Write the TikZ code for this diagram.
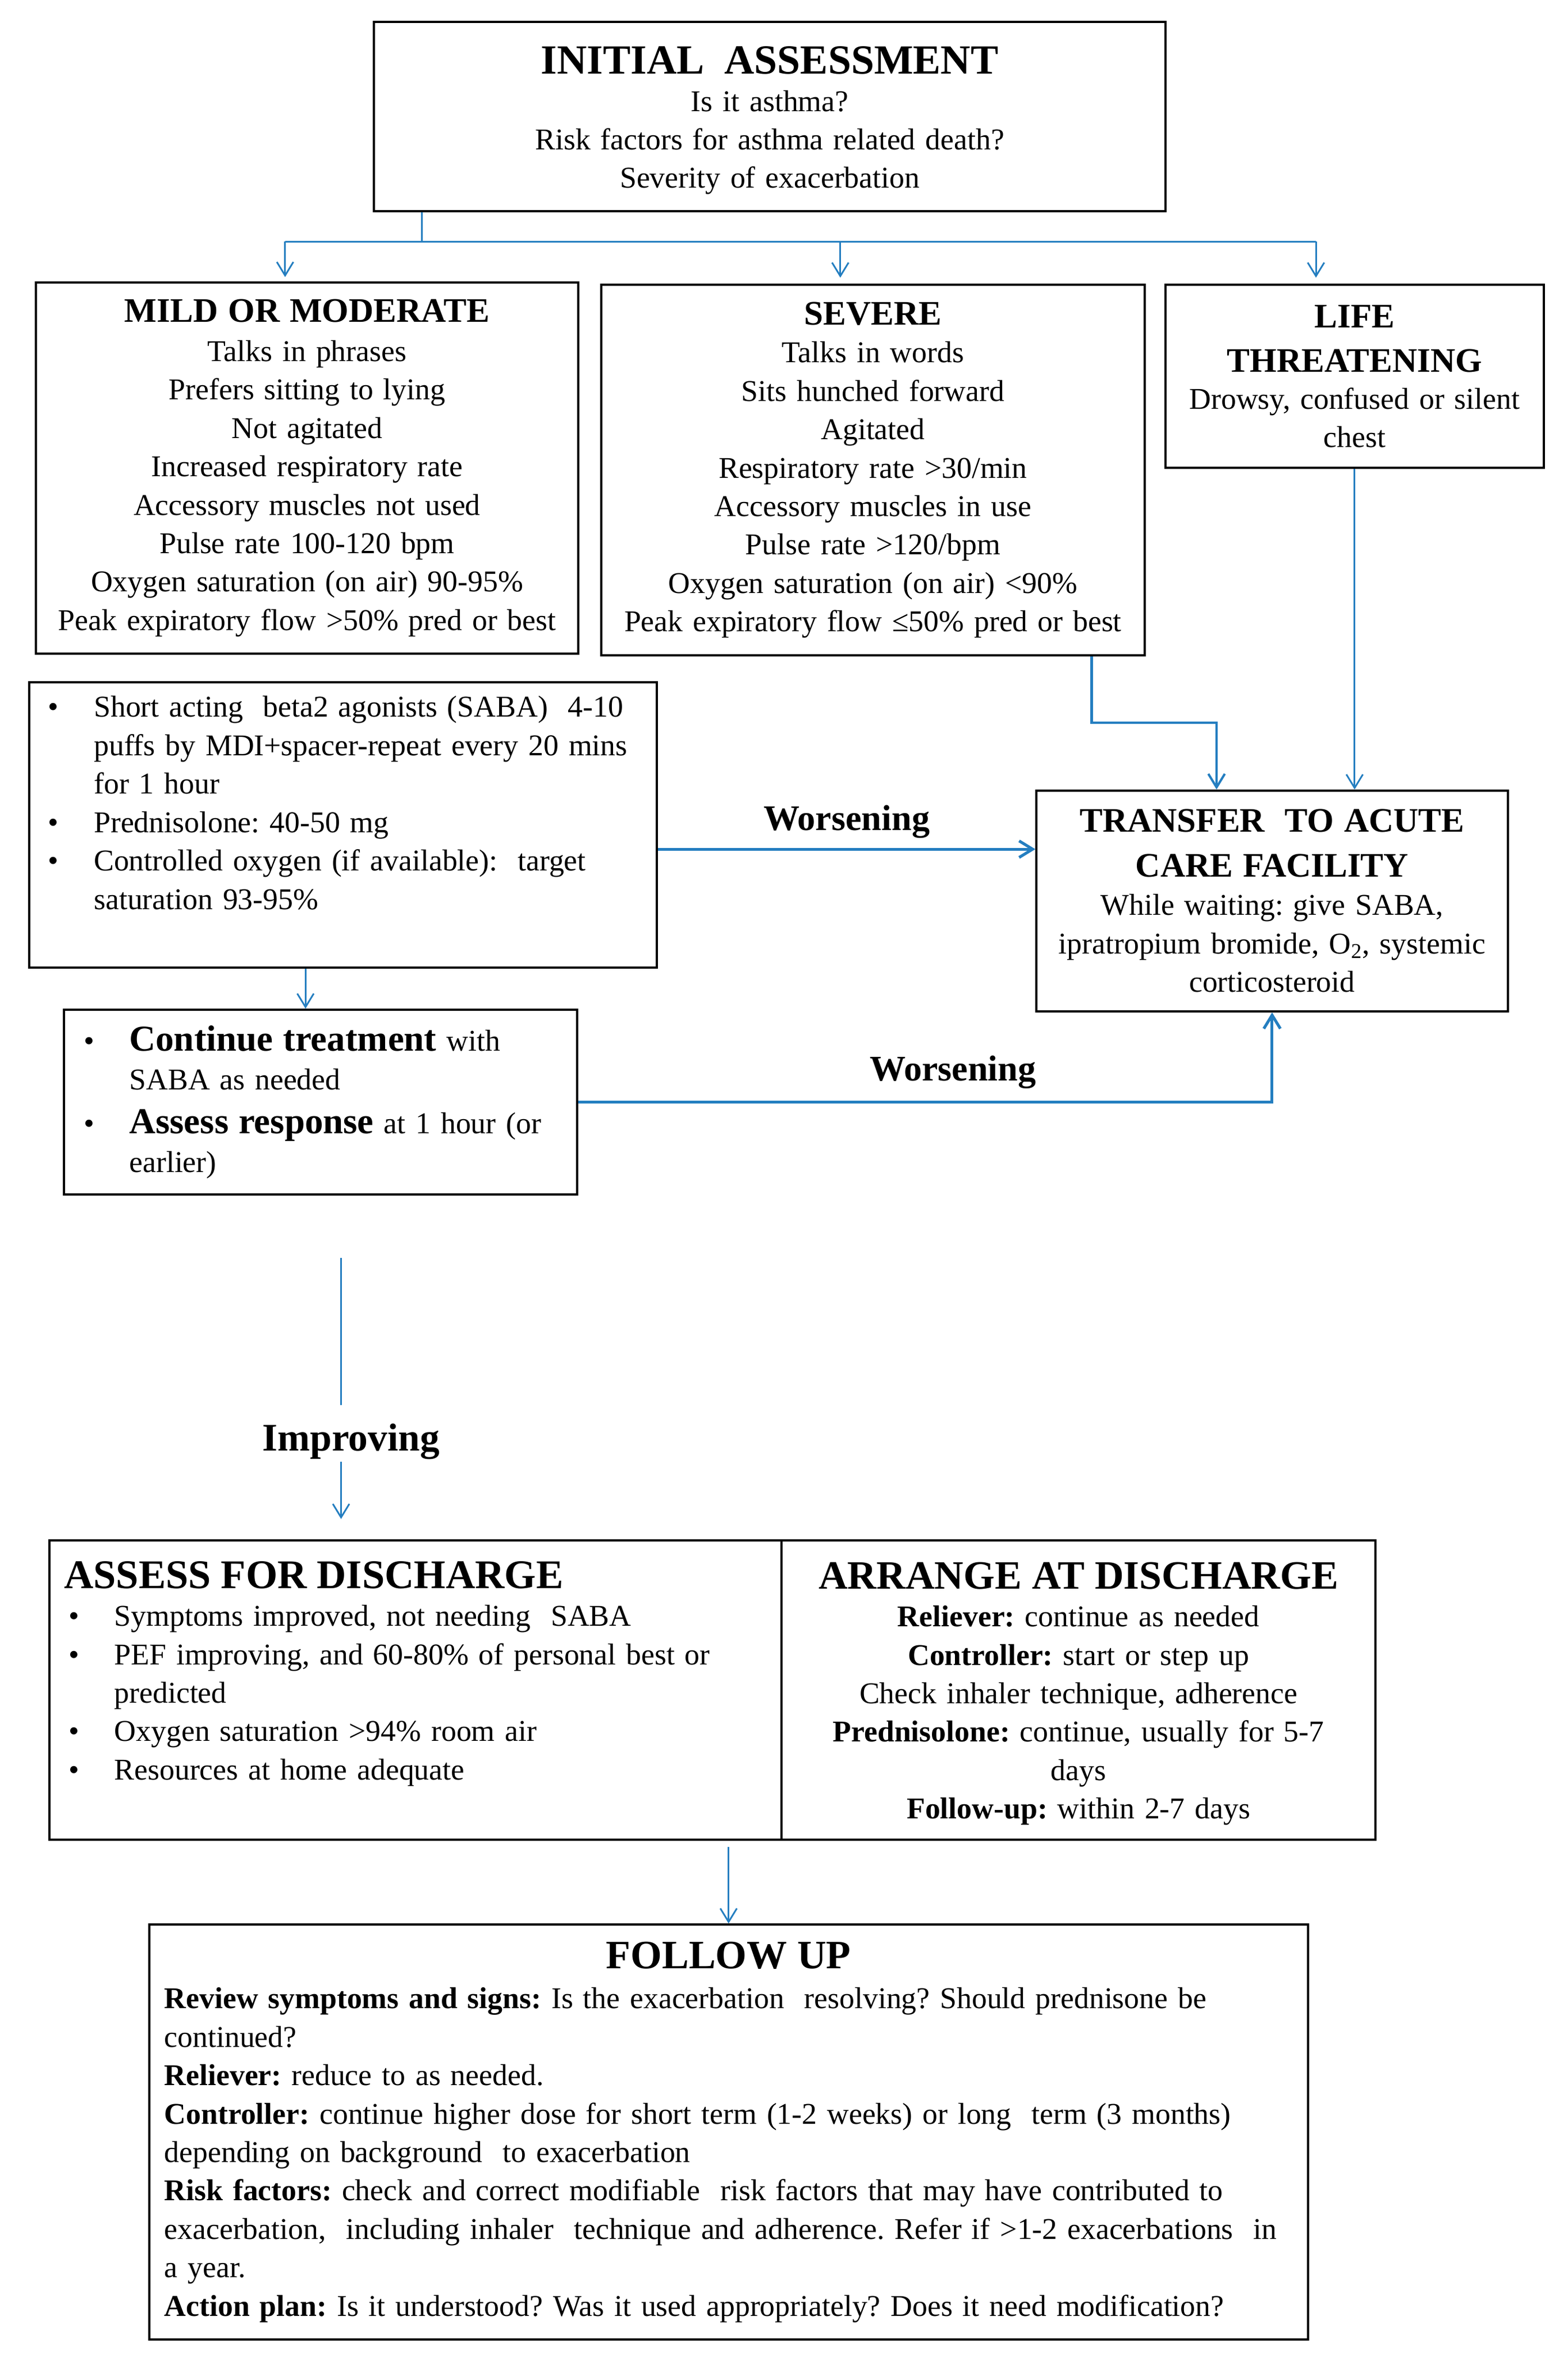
\documentclass[tikz,border=0pt]{standalone}
\usepackage{fontspec}
\setmainfont{Liberation Serif}
\usetikzlibrary{arrows.meta}
\definecolor{lineblue}{RGB}{36,126,192}
\frenchspacing

\newcommand{\bodysize}{\fontsize{20.1}{25.6}\selectfont}
\newcommand{\headsize}{\fontsize{22.9}{25.6}\selectfont\bfseries}
\newcommand{\bigsize}{\fontsize{27.1}{25.6}\selectfont\bfseries}
\newcommand{\leadsize}{\fontsize{24.3}{26}\selectfont\bfseries}
\newcommand{\bulmark}{\makebox[30.5pt][l]{\textbullet}}
\newcommand{\bulgap}{\hspace*{30.5pt}}

\begin{document}
\begin{tikzpicture}
  [
    x=1pt, y=-1pt,
    >={Straight Barb[length=9pt,width=11pt]},
    box/.style   = {draw, line width=1.5pt, anchor=north west, inner sep=2pt, font=\bodysize},
    conn/.style  = {draw=lineblue, line width=1.1pt},
    wconn/.style = {conn, line width=1.9pt},
    lbl/.style   = {font=\fontsize{24}{26}\selectfont\bfseries, inner sep=0pt},
  ]

%Fix the page size
\useasboundingbox (0,0) rectangle (1044.6,1571);

%Initial assessment
\node[box, minimum width=527.5pt, minimum height=126pt, text width=510pt, align=center] (init) at (248.5,14)
  {{\fontsize{27.6}{25.6}\selectfont\bfseries INITIAL\ \ ASSESSMENT}\rule{0pt}{23.4pt}\\[-0.8pt]
   Is it asthma?\\
   Risk factors for asthma related death?\\
   Severity of exacerbation};

%Severity boxes
\node[box, minimum width=361.2pt, minimum height=247pt, text width=345pt, align=center] (mild) at (23.3,187.6)
  {{\headsize MILD OR MODERATE}\\[0.5pt]
   Talks in phrases\\
   Prefers sitting to lying\\
   Not agitated\\
   Increased respiratory rate\\
   Accessory muscles not used\\
   Pulse rate 100-120 bpm\\
   Oxygen saturation (on air) 90-95\%\\
   Peak expiratory flow >50\% pred or best};
\node[box, minimum width=362pt, minimum height=247pt, text width=346pt, align=center] (sev) at (400,189)
  {{\headsize SEVERE}\\[-0.5pt]
   Talks in words\\
   Sits hunched forward\\
   Agitated\\
   Respiratory rate >30/min\\
   Accessory muscles in use\\
   Pulse rate >120/bpm\\
   Oxygen saturation (on air) <90\%\\
   Peak expiratory flow ≤50\% pred or best};
\node[box, minimum width=252pt, minimum height=122pt, text width=240pt, align=center] (life) at (776,189)
  {{\headsize LIFE}\\[3.9pt]
   {\headsize THREATENING}\\[-0.8pt]
   Drowsy, confused or silent\\
   chest};

%First treatment
\node[box, minimum width=418.3pt, minimum height=190pt, text width=393pt, align=left] (saba) at (18.7,454)
  {\bulmark Short acting\ \ beta2 agonists (SABA)\ \ 4-10\\
   \bulgap puffs by MDI+spacer-repeat every 20 mins\\
   \bulgap for 1 hour\\
   \bulmark Prednisolone: 40-50 mg\\
   \bulmark Controlled oxygen (if available):\ \ target\\
   \bulgap saturation 93-95\%\rule[-30pt]{0pt}{30pt}};
\node[box, minimum width=342pt, minimum height=123pt, text width=316pt, align=left,
      font=\fontsize{20.1}{26}\selectfont] (cont) at (42,672)
  {\bulmark{\leadsize Continue treatment} with\\
   \bulgap SABA as needed\\[3pt]
   \bulmark{\leadsize Assess response} at 1 hour (or\\
   \bulgap earlier)};

%Transfer
\node[box, minimum width=314pt, minimum height=147pt, text width=304pt, align=center] (trans) at (690,526)
  {{\headsize TRANSFER\ \ TO ACUTE}\\[4pt]
   {\headsize CARE FACILITY}\\[0.2pt]
   While waiting: give SABA,\\
   ipratropium bromide, O\textsubscript{2}, systemic\\
   corticosteroid};

%Discharge
\node[box, minimum width=488pt, minimum height=199.5pt, text width=468pt, align=left] (dleft) at (32,1025.5)
  {{\bigsize ASSESS FOR DISCHARGE}\rule{0pt}{22.7pt}\\[-0.5pt]
   \hspace*{3pt}\bulmark Symptoms improved, not needing\ \ SABA\\
   \hspace*{3pt}\bulmark PEF improving, and 60-80\% of personal best or\\
   \hspace*{3pt}\bulgap predicted\\
   \hspace*{3pt}\bulmark Oxygen saturation >94\% room air\\
   \hspace*{3pt}\bulmark Resources at home adequate\rule[-30.7pt]{0pt}{30.7pt}};
\node[box, minimum width=396pt, minimum height=199.5pt, text width=384pt, align=center] (dright) at (520,1025.5)
  {{\fontsize{26.8}{25.6}\selectfont\bfseries ARRANGE AT DISCHARGE}\rule{0pt}{22.7pt}\\[-0.5pt]
   \textbf{Reliever:} continue as needed\\
   \textbf{Controller:} start or step up\\
   Check inhaler technique, adherence\\
   \textbf{Prednisolone:} continue, usually for 5-7\\
   days\\
   \textbf{Follow-up:} within 2-7 days};

%Follow up
\node[box, minimum width=772.4pt, minimum height=276.5pt, text width=752pt, align=left] (follow) at (98.6,1281.5)
  {\makebox[\linewidth]{\fontsize{26.8}{25.6}\selectfont\bfseries FOLLOW UP}\\[1.2pt]
   \textbf{Review symptoms and signs:} Is the exacerbation\ \ resolving? Should prednisone be\\
   continued?\\
   \textbf{Reliever:} reduce to as needed.\\
   \textbf{Controller:} continue higher dose for short term (1-2 weeks) or long\ \ term (3 months)\\
   depending on background\ \ to exacerbation\\
   \textbf{Risk factors:} check and correct modifiable\ \ risk factors that may have contributed to\\
   exacerbation,\ \ including inhaler\ \ technique and adherence. Refer if >1-2 exacerbations\ \ in\\
   a year.\\
   \textbf{Action plan:} Is it understood? Was it used appropriately? Does it need modification?};

%Split below the initial assessment
\coordinate (hub) at (281,161);
\coordinate (h1) at (190,161);
\coordinate (h2) at (560,161);
\coordinate (h3) at (877,161);
\draw[conn] (hub |- init.south) -- (hub);
\draw[conn] (h1) -- (h3);
\draw[conn,->,shorten >=3pt] (h1) -- (h1 |- mild.north);
\draw[conn,->,shorten >=4pt] (h2) -- (h2 |- sev.north);
\draw[conn,->,shorten >=4pt] (h3) -- (h3 |- life.north);

%To the transfer box
\draw[conn,->,line width=1.5pt] ([xshift=-36pt]sev.south east) -- ++(0,44) -| ([xshift=-37pt]trans.north);
\draw[conn,->] (life.south) -- (life.south |- trans.north);
\draw[wconn,->] ([yshift=-16pt]saba.east) -- ([yshift=-16pt]saba.east -| trans.west)
  node[lbl, midway, above=6.2pt] (worse1) {Worsening};
\draw[wconn,->] (cont.east) -| (trans.south)
  node[lbl, pos=0.27, above=7.8pt] (worse2) {Worsening};

%Treatment flow
\draw[conn,->] ([xshift=-25pt]saba.south) -- ([xshift=-25pt]saba.south |- cont.north);
\coordinate (impa) at (227.3,838);
\coordinate (impb) at (227.3,936);
\coordinate (impc) at (227.3,974);
\node[lbl, font=\fontsize{26}{28}\selectfont\bfseries, anchor=base] (imp) at (234,966.4) {Improving};
\draw[conn] (impa) -- (impb);
\draw[conn,->,shorten >=13.5pt] (impc) -- (impc |- dleft.north);
\draw[conn,->,shorten <=4pt] (dleft.south -| follow.north) -- (follow.north);
\end{tikzpicture}
\end{document}
